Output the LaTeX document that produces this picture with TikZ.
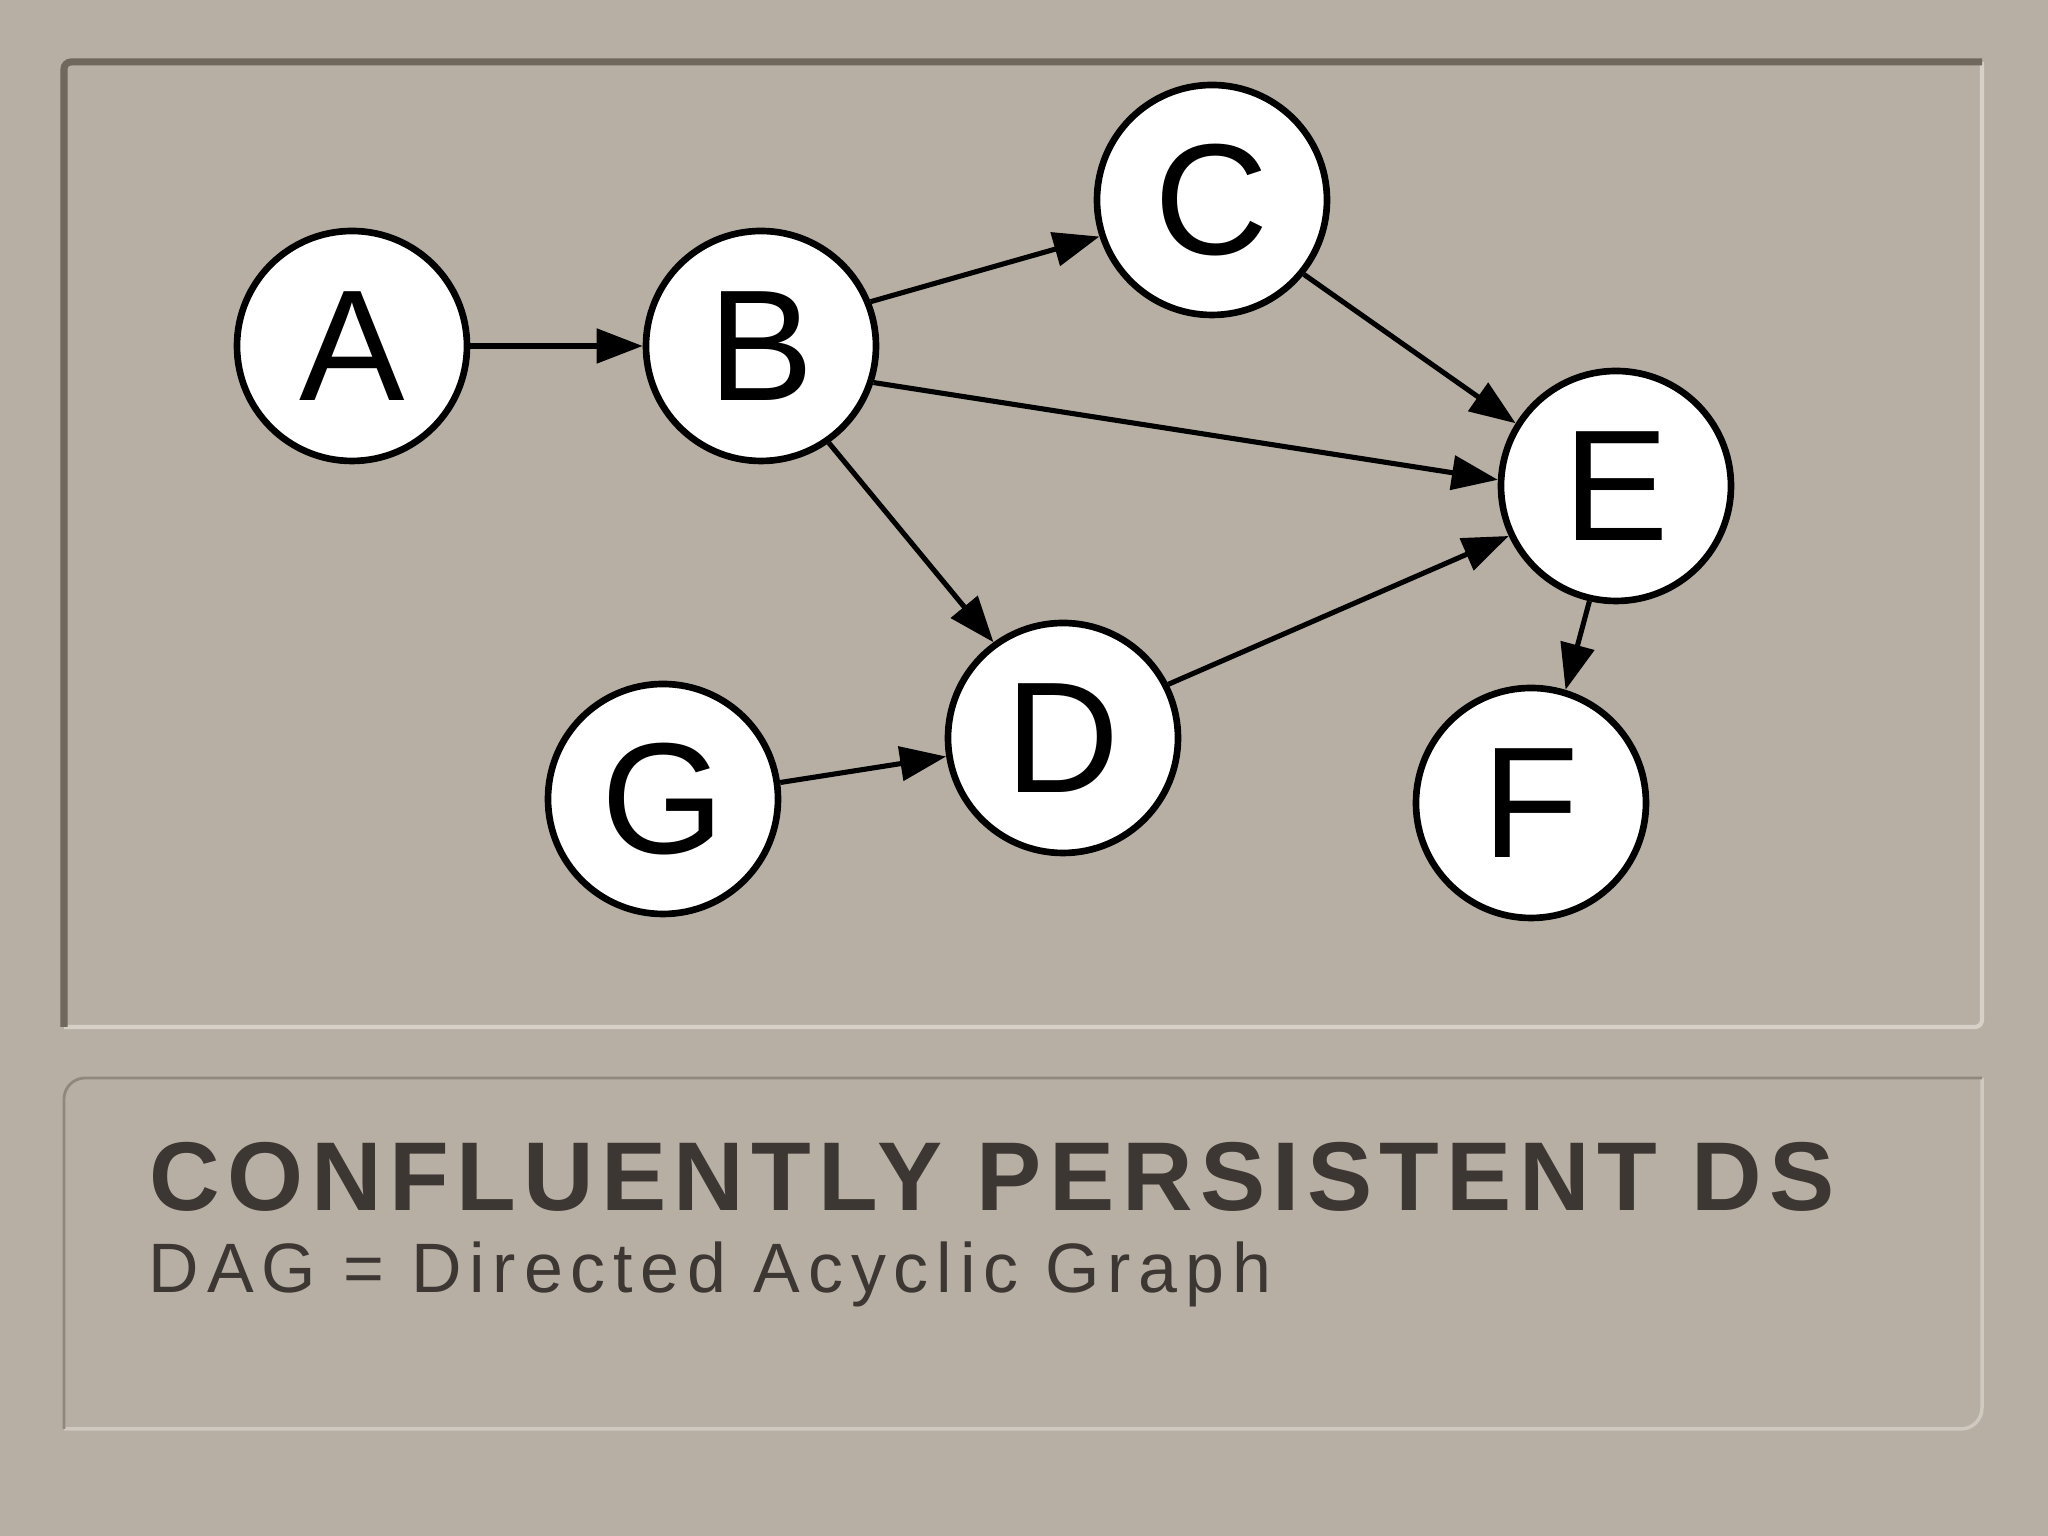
\documentclass[tikz,border=0pt]{standalone}
\usepackage{fontspec}
\setmainfont{Liberation Sans}
\newfontfamily\titlefont[LetterSpace=7.6]{Liberation Sans}
\newfontfamily\subtitlefont[LetterSpace=11.2]{Liberation Sans}
\usetikzlibrary{arrows.meta}
\definecolor{paper}{RGB}{183,175,164}
\definecolor{groove}{RGB}{112,103,93}
\definecolor{ridge}{RGB}{214,208,198}
\definecolor{ink}{RGB}{60,55,50}
\begin{document}
\begin{tikzpicture}[
    vertex/.style={circle,draw=black,fill=white,line width=1.9pt,minimum size=2.3cm,inner sep=0pt,
        font=\fontsize{45}{54}\selectfont},
    edge/.style={line width=1.45pt,-{Triangle[length=4.6mm,width=3.4mm]}}]
    \fill[paper] (0,0) rectangle (20.48,15.36);
    \useasboundingbox (0,0) rectangle (20.48,15.36);
    % panels
    \draw[ridge,line width=1.2pt,rounded corners=2pt] (19.82,14.74) -- (19.82,5.09) -- (0.64,5.09);
    \draw[groove,line width=2pt,rounded corners=2pt] (0.64,5.09) -- (0.64,14.74) -- (19.82,14.74);
    \draw[ridge!80!paper,line width=1pt,rounded corners=6pt] (19.82,4.58) -- (19.82,1.07) -- (0.64,1.07);
    \draw[groove!55!paper,line width=0.8pt,rounded corners=6pt] (0.64,1.07) -- (0.64,4.58) -- (19.82,4.58);
    % the graph
    \node[vertex] (A) at (3.52,11.90) {A};
    \node[vertex] (B) at (7.61,11.90) {B};
    \node[vertex] (C) at (12.12,13.36) {C};
    \node[vertex] (E) at (16.16,10.50) {E};
    \node[vertex] (D) at (10.63,7.98) {D};
    \node[vertex] (G) at (6.63,7.37) {G};
    \node[vertex] (F) at (15.31,7.33) {F};
    \draw[edge] (A.east) -- (B.west);
    \draw[edge] (B.22) -- (C.198);
    \draw[edge] (B.-18) -- (E.177);
    \draw[edge] (B.-55) -- (D.126);
    \draw[edge] (C.-39) -- (E.148);
    \draw[edge] (D.27) -- (E.205);
    \draw[edge] (G.8) -- (D.189);
    \draw[edge] (E.257) -- (F.73);
    % caption
    \node[anchor=base west,inner sep=0pt,text=ink] (title) at (1.49,3.25)
        {\titlefont\bfseries\fontsize{27.8}{30}\selectfont CONFLUENTLY PERSISTENT DS};
    \node[anchor=base west,inner sep=0pt,text=ink] (subtitle) at (1.48,2.43)
        {\subtitlefont\fontsize{19.9}{22}\selectfont DAG = Directed Acyclic Graph};
\end{tikzpicture}
\end{document}
